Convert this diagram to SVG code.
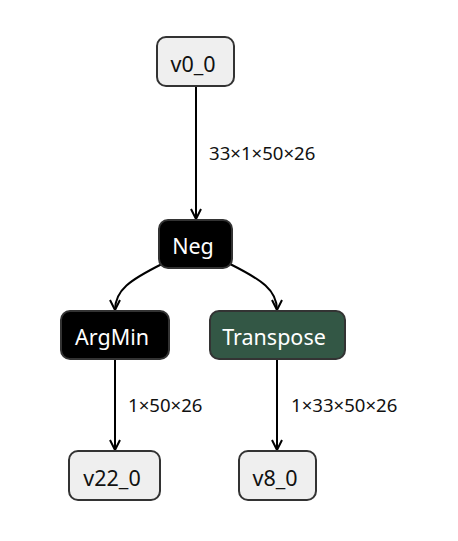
<svg xmlns="http://www.w3.org/2000/svg" width="458" height="541" viewBox="0 0 458 541">
<defs>
<marker id="arr" viewBox="0 0 12 12" refX="11" refY="6" markerWidth="12" markerHeight="12" markerUnits="userSpaceOnUse" orient="auto">
<path d="M1,1 L11,6 L1,11" fill="none" stroke="#000" stroke-width="2"/>
</marker>
<style>
.n rect{stroke:#333;stroke-width:2}
.lt rect{fill:#efefef}
.lt text{fill:#111}
.dk rect{fill:#000}
.gr rect{fill:#335745}
.dk text,.gr text{fill:#fff}
text{font-family:"Segoe UI","Noto Sans","Liberation Sans",sans-serif;font-size:21.5px;text-anchor:middle}
.e path{fill:none;stroke:#000;stroke-width:2;marker-end:url(#arr)}
.e text{text-anchor:start;font-size:18.6px;fill:#111}
</style>
</defs>
<rect width="458" height="541" fill="#fff"/>
<g class="e" id="edges">
<path d="M196,86 L196,219"/>
<text x="209" y="160">33×1×50×26</text>
<path d="M162,264 C130,280 115,290 115,310"/>
<path d="M230,264 C262,280 277,290 277,310"/>
<path d="M115,359 L115,450"/>
<text x="128" y="412">1×50×26</text>
<path d="M277,359 L277,450"/>
<text x="291" y="412">1×33×50×26</text>
</g>
<g id="v0_0" class="n lt"><rect x="157" y="37" width="77" height="49" rx="9"/><text x="193" y="72">v0_0</text></g>
<g id="Neg" class="n dk"><rect x="159" y="220" width="73" height="48" rx="9"/><text x="193" y="254">Neg</text></g>
<g id="ArgMin" class="n dk"><rect x="61" y="311" width="108" height="48" rx="9"/><text x="112" y="345">ArgMin</text></g>
<g id="Transpose" class="n gr"><rect x="210" y="311" width="135" height="48" rx="9"/><text x="274" y="345">Transpose</text></g>
<g id="v22_0" class="n lt"><rect x="69" y="451" width="91" height="49" rx="9"/><text x="112" y="486">v22_0</text></g>
<g id="v8_0" class="n lt"><rect x="239" y="451" width="77" height="49" rx="9"/><text x="275" y="486">v8_0</text></g>
</svg>
